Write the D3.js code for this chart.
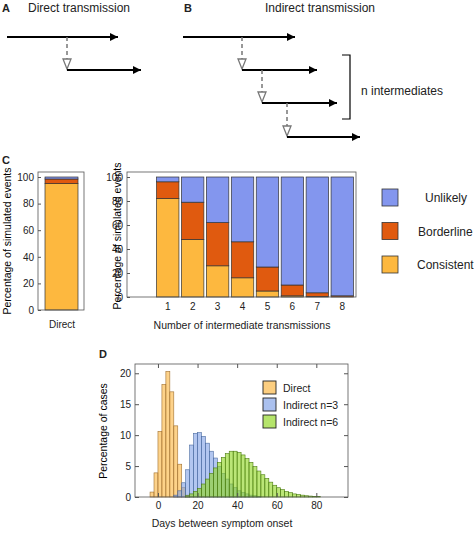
<!DOCTYPE html>
<html><head><meta charset="utf-8">
<script src="https://cdn.jsdelivr.net/npm/d3@7"></script>
<style>body{margin:0;background:#fff}svg{font-family:"Liberation Sans",Arial,sans-serif}</style>
</head><body><svg id="c" width="474" height="533"></svg>
<script>
// ---- data ----
const categories = ["Unlikely","Borderline","Consistent"];
const directStack = {Consistent:95, Borderline:3.5, Unlikely:1.5};
const nTransmissions = [1,2,3,4,5,6,7,8];
const consistent = [82,48,26,16,5,1,0.5,0];
const borderline = [14,31,36,30,20,9,3,1];
const unlikely   = [4,21,38,54,75,90,96.5,99];
const yTicksC = [0,20,40,60,80,100];
const binStartDirect = [-4,-2,0,2,4,6,8,10,12,14];
const directPct = [0.8,3.9,10.6,18.2,20.3,17,11.5,5.3,1.5,0.3];
const binStartN3 = [8,10,12,14,16,18,20,22,24,26,28,30,32,34,36,38,40,42,44,46,48,50];
const n3Pct = [0.3,1.0,2.3,4.4,8.4,10.3,10.4,9.8,8.7,7.4,6.3,4.9,3.8,2.9,2.1,1.5,1.0,0.7,0.5,0.3,0.2,0.1];
const binStartN6 = [14,16,18,20,22,24,26,28,30,32,34,36,38,40,42,44,46,48,50,52,54,56,58,60,62,64,66,68,70,72,74,76,78,80];
const n6Pct = [0.2,0.5,0.9,1.4,2.1,2.9,3.8,4.7,5.6,6.4,7.0,7.4,7.4,7.2,6.8,6.2,5.6,4.9,4.2,3.6,3.0,2.4,1.9,1.5,1.2,0.9,0.7,0.5,0.4,0.3,0.2,0.15,0.1,0.05];
const xTicksD = [0,20,40,60,80];
const yTicksD = [0,5,10,15,20];
const colC = {Unlikely:"#8396ee",Borderline:"#e05a0f",Consistent:"#fdb83f"};

const svg = d3.select("#c");
const txt=(x,y,s,o={})=>svg.append("text").attr("x",x).attr("y",y).text(s)
  .attr("font-size",o.fs||11).attr("font-weight",o.fw||"normal").attr("text-anchor",o.a||"start").attr("fill","#222");

// ---- A / B ----
txt(2,12,"A",{fw:"bold"}); txt(28,12,"Direct transmission",{fs:12});
txt(184,12,"B",{fw:"bold"}); txt(265,12,"Indirect transmission",{fs:12});
const defs=svg.append("defs");
defs.append("marker").attr("id","ah").attr("viewBox","0 0 10 10").attr("refX",10).attr("refY",5)
 .attr("markerWidth",14).attr("markerHeight",8).attr("markerUnits","userSpaceOnUse").attr("orient","auto")
 .append("path").attr("d","M0,0L10,5L0,10Z").attr("fill","#000");
function solid(x1,x2,y){svg.append("line").attr("x1",x1).attr("x2",x2).attr("y1",y).attr("y2",y)
  .attr("stroke","#000").attr("stroke-width",2).attr("marker-end","url(#ah)");}
function dash(x,y1,y2){svg.append("line").attr("x1",x).attr("x2",x).attr("y1",y1).attr("y2",y2-8)
  .attr("stroke","#777").attr("stroke-width",1.5).attr("stroke-dasharray","4,3");
  svg.append("path").attr("d",`M${x-4},${y2-10}L${x+4},${y2-10}L${x},${y2}Z`).attr("fill","#fff").attr("stroke","#777").attr("stroke-width",1.3);}
solid(7,118,37); dash(67,37,69); solid(67,141,70);
solid(183,295,37); dash(242,37,69); solid(242,317,70);
dash(262,70,102); solid(262,337,103); dash(287,103,136); solid(287,360,137);
svg.append("path").attr("d","M342,55H350V119H342").attr("fill","none").attr("stroke","#000").attr("stroke-width",1.2);
txt(361,95,"n intermediates",{fs:12});

// ---- C ----
txt(2,164,"C",{fw:"bold"});
function frame(x0,x1,y0,y1){svg.append("rect").attr("x",x0).attr("y",y0).attr("width",x1-x0).attr("height",y1-y0)
  .attr("fill","none").attr("stroke","#555").attr("stroke-width",0.8);}
const yL=d3.scaleLinear().domain([0,100]).range([310,177]);
const stackOrder=["Consistent","Borderline","Unlikely"];
let acc=0;
stackOrder.forEach(k=>{svg.append("rect").attr("x",45).attr("width",33).attr("y",yL(acc+directStack[k])).attr("height",yL(acc)-yL(acc+directStack[k]))
  .attr("fill",colC[k]).attr("stroke","#333").attr("stroke-width",0.7); acc+=directStack[k];});
frame(38,84,172,310);
svg.append("g").attr("transform","translate(38,0)").call(d3.axisLeft(yL).tickValues(yTicksC).tickSize(-3).tickPadding(4))
 .call(g=>{g.select(".domain").remove();g.selectAll("text").attr("font-size",10).attr("fill","#222");g.selectAll("line").attr("stroke","#555");});
txt(62,328,"Direct",{fs:10,a:"middle"});
svg.append("text").attr("transform","translate(11,241) rotate(-90)").attr("text-anchor","middle").attr("font-size",10.5).text("Percentage of simulated events");

const xR=d3.scaleBand().domain(nTransmissions).range([156,354]).paddingInner(0.1).paddingOuter(0.02);
const yR=d3.scaleLinear().domain([0,100]).range([297,177]);
const stackData=nTransmissions.map((n,i)=>({n,Consistent:consistent[i],Borderline:borderline[i],Unlikely:unlikely[i]}));
const series=d3.stack().keys(stackOrder)(stackData);
series.forEach(s=>svg.append("g").selectAll("rect").data(s).join("rect")
  .attr("x",d=>xR(d.data.n)).attr("width",xR.bandwidth()).attr("y",d=>yR(d[1])).attr("height",d=>yR(d[0])-yR(d[1]))
  .attr("fill",colC[s.key]).attr("stroke","#333").attr("stroke-width",0.7));
frame(127,356,172,297);
svg.append("g").attr("transform","translate(127,0)").call(d3.axisLeft(yR).tickValues(yTicksC).tickSize(-3).tickPadding(4))
 .call(g=>{g.select(".domain").remove();g.selectAll("text").attr("font-size",10).attr("fill","#222");g.selectAll("line").attr("stroke","#555");});
svg.append("g").attr("transform","translate(0,297)").call(d3.axisBottom(xR).tickSize(0).tickPadding(6))
 .call(g=>{g.select(".domain").remove();g.selectAll("text").attr("font-size",10).attr("fill","#222");});
txt(242,329,"Number of intermediate transmissions",{fs:10.5,a:"middle"});
svg.append("text").attr("transform","translate(121,236) rotate(-90)").attr("text-anchor","middle").attr("font-size",10.5).text("Percentage of simulated events");
categories.forEach((k,i)=>{const y=189+i*33.5;
  svg.append("rect").attr("x",382).attr("y",y).attr("width",16).attr("height",17).attr("fill",colC[k]).attr("stroke","#333").attr("stroke-width",0.8);
  txt([425,418,417][i],y+13,k,{fs:12});});

// ---- D ----
txt(99,358,"D",{fw:"bold"});
const xD=d3.scaleLinear().domain([-11.6,96]).range([135,348]);
const yD=d3.scaleLinear().domain([0,21.5]).range([497,364]);
function hist(starts,vals,fill,stroke){svg.append("g").selectAll("rect").data(starts.map((s,i)=>[s,vals[i]])).join("rect")
  .attr("x",d=>xD(d[0])).attr("width",xD(2)-xD(0)).attr("y",d=>yD(d[1])).attr("height",d=>yD(0)-yD(d[1]))
  .attr("fill",fill).attr("fill-opacity",0.6).attr("stroke",stroke).attr("stroke-width",0.6);}
hist(binStartDirect,directPct,"#fbb43c","#a07030");
hist(binStartN3,n3Pct,"#7ea0e6","#4a6aa0");
hist(binStartN6,n6Pct,"#8ed61c","#4a7a10");
frame(135,348,364,497);
const ax=(g)=>{g.select(".domain").remove();g.selectAll("text").attr("font-size",10).attr("fill","#222");g.selectAll("line").attr("stroke","#555");};
svg.append("g").attr("transform","translate(135,0)").call(d3.axisLeft(yD).tickValues(yTicksD).tickSize(-4).tickPadding(4)).call(ax);
svg.append("g").attr("transform","translate(0,497)").call(d3.axisBottom(xD).tickValues(xTicksD).tickSize(-4).tickPadding(5)).call(ax);
svg.append("g").attr("transform","translate(0,364)").call(d3.axisTop(xD).tickValues(xTicksD).tickSize(-4).tickFormat("")).call(ax);
svg.append("g").attr("transform","translate(348,0)").call(d3.axisRight(yD).tickValues(yTicksD).tickSize(-4).tickFormat("")).call(ax);
txt(222,527,"Days between symptom onset",{fs:10.5,a:"middle"});
svg.append("text").attr("transform","translate(107,431) rotate(-90)").attr("text-anchor","middle").attr("font-size",10.5).text("Percentage of cases");
[["Direct","#fbb43c"],["Indirect n=3","#7ea0e6"],["Indirect n=6","#8ed61c"]].forEach((d,i)=>{const y=381+i*17;
  svg.append("rect").attr("x",263).attr("y",y).attr("width",13).attr("height",13).attr("fill",d[1]).attr("fill-opacity",0.65).attr("stroke","#222").attr("stroke-width",0.9);
  txt(283,y+11,d[0],{fs:10.5});});
</script></body></html>
